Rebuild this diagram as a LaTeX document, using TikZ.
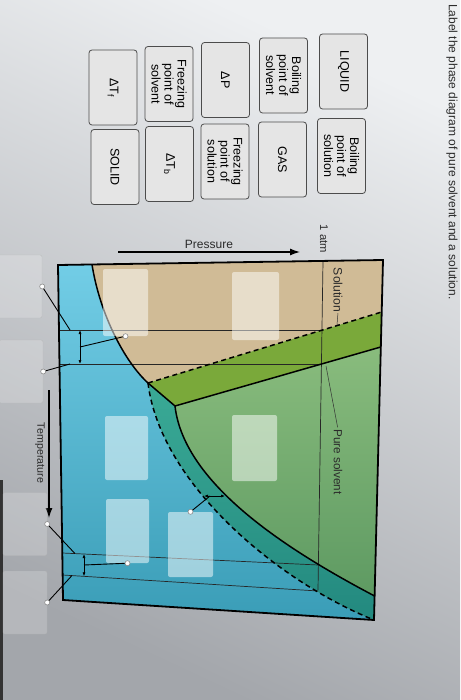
\documentclass[tikz,border=0pt]{standalone}
\usepackage{fontspec}
\setmainfont{Liberation Sans}
\usetikzlibrary{arrows.meta}

\definecolor{paper}{HTML}{EEF0F2}
\definecolor{paperdark}{HTML}{A3A6AB}
\definecolor{iceblue}{HTML}{72CDE6}
\definecolor{iceblued}{HTML}{3A9DB7}
\definecolor{liqtan}{HTML}{D0BB96}
\definecolor{bandolive}{HTML}{7AA93A}
\definecolor{gasgreen}{HTML}{89BC7D}
\definecolor{gasgreend}{HTML}{5E9A62}
\definecolor{bandteal}{HTML}{3AAA96}
\definecolor{bandteald}{HTML}{23897F}
\definecolor{inkgray}{HTML}{2B2B2B}

\begin{document}
\begin{tikzpicture}[x=1pt,y=-1pt,
    labelbox/.style={draw=black!70, line width=0.8pt, fill=black!10, rounded corners=3pt, rotate=-90,
      minimum width=75pt, minimum height=48pt, align=center, inner sep=1pt,
      font=\fontsize{12.5}{13}\selectfont},
    dropbox/.style={fill=white, fill opacity=0.5, rounded corners=2pt, inner sep=0pt},
    sidebox/.style={draw=black!30, fill=white, fill opacity=0.2, draw opacity=0.6, rounded corners=2pt,
      inner sep=0pt, minimum width=44pt, minimum height=63pt},
    dropdot/.style={circle, draw=black!45, fill=white, inner sep=0pt, minimum size=5pt, line width=0.6pt},
    leader/.style={line width=0.9pt, black},
    guideline/.style={line width=0.7pt, black!85},
    boundary/.style={line width=1.5pt},
    dashboundary/.style={line width=1.5pt, dash pattern=on 5pt off 3.5pt},
    twoway/.style={line width=0.7pt, arrows={Latex[length=4pt,width=3pt]-Latex[length=4pt,width=3pt]}},
    axisarrow/.style={line width=1.3pt, arrows={-Latex[length=10pt,width=7pt]}},
    axislabel/.style={rotate=-90, text=inkgray, inner sep=0pt}]
    \useasboundingbox (0,0) rectangle (460,700);
    \clip (0,0) rectangle (460,700);
    % Paper
    \shade[top color=paper, bottom color=paperdark, shading angle=-25] (0,0) rectangle (460,700);
    \fill[black!80] (0,480) rectangle (3,700);
    \node[axislabel, anchor=west, font=\fontsize{12}{14}\selectfont] (title) at (452,4)
        {Label the phase diagram of pure solvent and a solution.};
    % Cards
    \node[labelbox] (cardLiquid) at (343.5,71.5) {LIQUID};
    \node[labelbox] (cardBpSolution) at (341.5,156) {Boiling\\point of\\solution};
    \node[labelbox] (cardBpSolvent) at (283.5,75.5) {Boiling\\point of\\solvent};
    \node[labelbox] (cardGas) at (282.5,159.5) {GAS};
    \node[labelbox] (cardDeltaP) at (225.5,80) {ΔP};
    \node[labelbox] (cardFpSolution) at (225,161.5) {Freezing\\point of\\solution};
    \node[labelbox] (cardFpSolvent) at (169,84) {Freezing\\point of\\solvent};
    \node[labelbox] (cardDeltaTb) at (169.5,164) {ΔT\textsubscript{b}};
    \node[labelbox] (cardDeltaTf) at (113,87.5) {ΔT\textsubscript{f}};
    \node[labelbox] (cardSolid) at (115,167) {SOLID};
    % Axes
    \coordinate (pStart) at (118,252);
    \coordinate (pEnd) at (300,252);
    \draw[axisarrow] (pStart) -- (pEnd);
    \node[text=inkgray, font=\fontsize{12}{14}\selectfont] (pressureLabel) at (209,244) {Pressure};
    \coordinate (tStart) at (49,390);
    \coordinate (tEnd) at (49,518);
    \draw[axisarrow] (tStart) -- (tEnd);
    \node[axislabel, font=\fontsize{10.7}{12}\selectfont] (temperatureLabel) at (40,453) {Temperature};
    \node[axislabel, font=\fontsize{11.2}{13}\selectfont] (atmLabel) at (324,239) {1 atm};
    % Frame and curve points
    \coordinate (TL) at (58,265);
    \coordinate (TR) at (383,260);
    \coordinate (BR) at (374,620);
    \coordinate (BL) at (63,600);
    \coordinate (T0) at (92,264.5);
    \coordinate (D0) at (148,383);
    \coordinate (TP) at (175,406);
    \coordinate (S1) at (381.7,312);
    \coordinate (P1) at (380.8,347);
    \coordinate (Q1) at (374.6,596);
    % Regions
    \shade[top color=iceblue, bottom color=iceblued] (TL) -- (T0) .. controls (100,315) and (125,362) .. (D0)
        .. controls (160,482) and (275,580) .. (BR) -- (BL) -- cycle;
    \fill[liqtan] (T0) -- (TR) -- (S1) -- (D0) .. controls (125,362) and (100,315) .. (T0) -- cycle;
    \fill[bandolive] (D0) -- (S1) -- (P1) -- (TP) -- cycle;
    \shade[top color=gasgreen, bottom color=gasgreend] (TP) -- (P1) -- (Q1) .. controls (293,553) and (184,486) .. (TP) -- cycle;
    \shade[top color=bandteal, bottom color=bandteald] (D0) -- (TP) .. controls (184,486) and (293,553) .. (Q1)
        -- (BR) .. controls (275,580) and (160,482) .. (D0) -- cycle;
    % 1 atm and level lines
    \coordinate (A0) at (323,261);
    \coordinate (A3) at (318,590);
    \draw[guideline] (A0) -- (A3);
    \coordinate (L1) at (59,330);   \coordinate (R1) at (322,330);
    \coordinate (L2) at (59.5,364); \coordinate (R2) at (321.4,364);
    \coordinate (L3) at (62.3,553); \coordinate (R3) at (318.4,565);
    \coordinate (L4) at (62.6,575); \coordinate (R4) at (318,591);
    \draw[guideline] (L1) -- (R1);
    \draw[guideline] (L2) -- (R2);
    \draw[guideline] (L3) -- (R3);
    \draw[guideline] (L4) -- (R4);
    % Phase boundaries
    \draw[boundary] (T0) .. controls (100,315) and (125,362) .. (D0) -- (TP)
        .. controls (184,486) and (293,553) .. (Q1);
    \draw[boundary] (TP) -- (P1);
    \draw[dashboundary] (D0) -- (S1);
    \draw[dashboundary] (D0) .. controls (160,482) and (275,580) .. (BR);
    \draw[line width=1.8pt] (TL) -- (TR) -- (BR) -- (BL) -- cycle;
    % Curve labels
    \node[axislabel, font=\fontsize{12.2}{13}\selectfont] (solutionLabel) at (338,290) {Solution};
    \coordinate (solutionTip) at (337,325);
    \draw[line width=0.5pt, black!80, shorten <=1pt] (solutionLabel.east) -- (solutionTip);
    \node[axislabel, font=\fontsize{11.7}{13}\selectfont] (solventLabel) at (338,462) {Pure solvent};
    \coordinate (solventTip) at (326,366);
    \draw[line width=0.5pt, black!80, shorten <=2pt] (solventLabel.west) -- (solventTip);
    % Measures
    \coordinate (dpTop) at (80,330);
    \coordinate (dpBottom) at (80,364);
    \coordinate (dpMid) at (80,347);
    \draw[twoway] (dpTop) -- (dpBottom);
    \coordinate (dtfTop) at (84,554);
    \coordinate (dtfBottom) at (84,576.3);
    \coordinate (dtfMid) at (84,565);
    \draw[twoway] (dtfTop) -- (dtfBottom);
    \coordinate (dtbLeft) at (204,496);
    \coordinate (dtbRight) at (225,496);
    \coordinate (dtbMid) at (210,496);
    \draw[twoway] (dtbLeft) -- (dtbRight);
    % Drop boxes on the diagram
    \node[dropbox, minimum width=45pt, minimum height=67pt] (boxA) at (125.5,302.5) {};
    \node[dropbox, minimum width=47pt, minimum height=68pt] (boxB) at (255.5,306) {};
    \node[dropbox, minimum width=43pt, minimum height=64pt] (boxC) at (126.5,448) {};
    \node[dropbox, minimum width=45pt, minimum height=66pt] (boxD) at (254.5,448) {};
    \node[dropbox, minimum width=43pt, minimum height=64pt] (boxE) at (127.5,531) {};
    \node[dropbox, minimum width=45pt, minimum height=65pt] (boxF) at (190.5,544.5) {};
    \node[dropdot] (dotA) at (boxA.south) {};
    \node[dropdot] (dotE) at (boxE.south) {};
    \node[dropdot] (dotF) at (boxF.north) {};
    \draw[leader] (dpMid) -- (dotA);
    \draw[leader] (dtfMid) -- (dotE);
    \draw[leader] (dtbMid) -- (dotF);
    % Drop boxes beside the diagram
    \node[sidebox] (side1) at (20,286.5) {};
    \node[sidebox] (side2) at (21,371.5) {};
    \node[sidebox] (side3) at (25,524) {};
    \node[sidebox] (side4) at (25,602.5) {};
    \node[dropdot] (dot1) at (side1.east) {};
    \node[dropdot] (dot2) at (side2.east) {};
    \node[dropdot] (dot3) at (side3.east) {};
    \node[dropdot] (dot4) at (side4.east) {};
    \coordinate (lv1) at (70,330);
    \coordinate (lv2) at (70,364);
    \coordinate (lv3) at (75,553.6);
    \coordinate (lv4) at (72,575.5);
    \draw[leader] (dot1) -- (lv1);
    \draw[leader] (dot2) -- (lv2);
    \draw[leader] (dot3) -- (lv3);
    \draw[leader] (dot4) -- (lv4);
\end{tikzpicture}
\end{document}
